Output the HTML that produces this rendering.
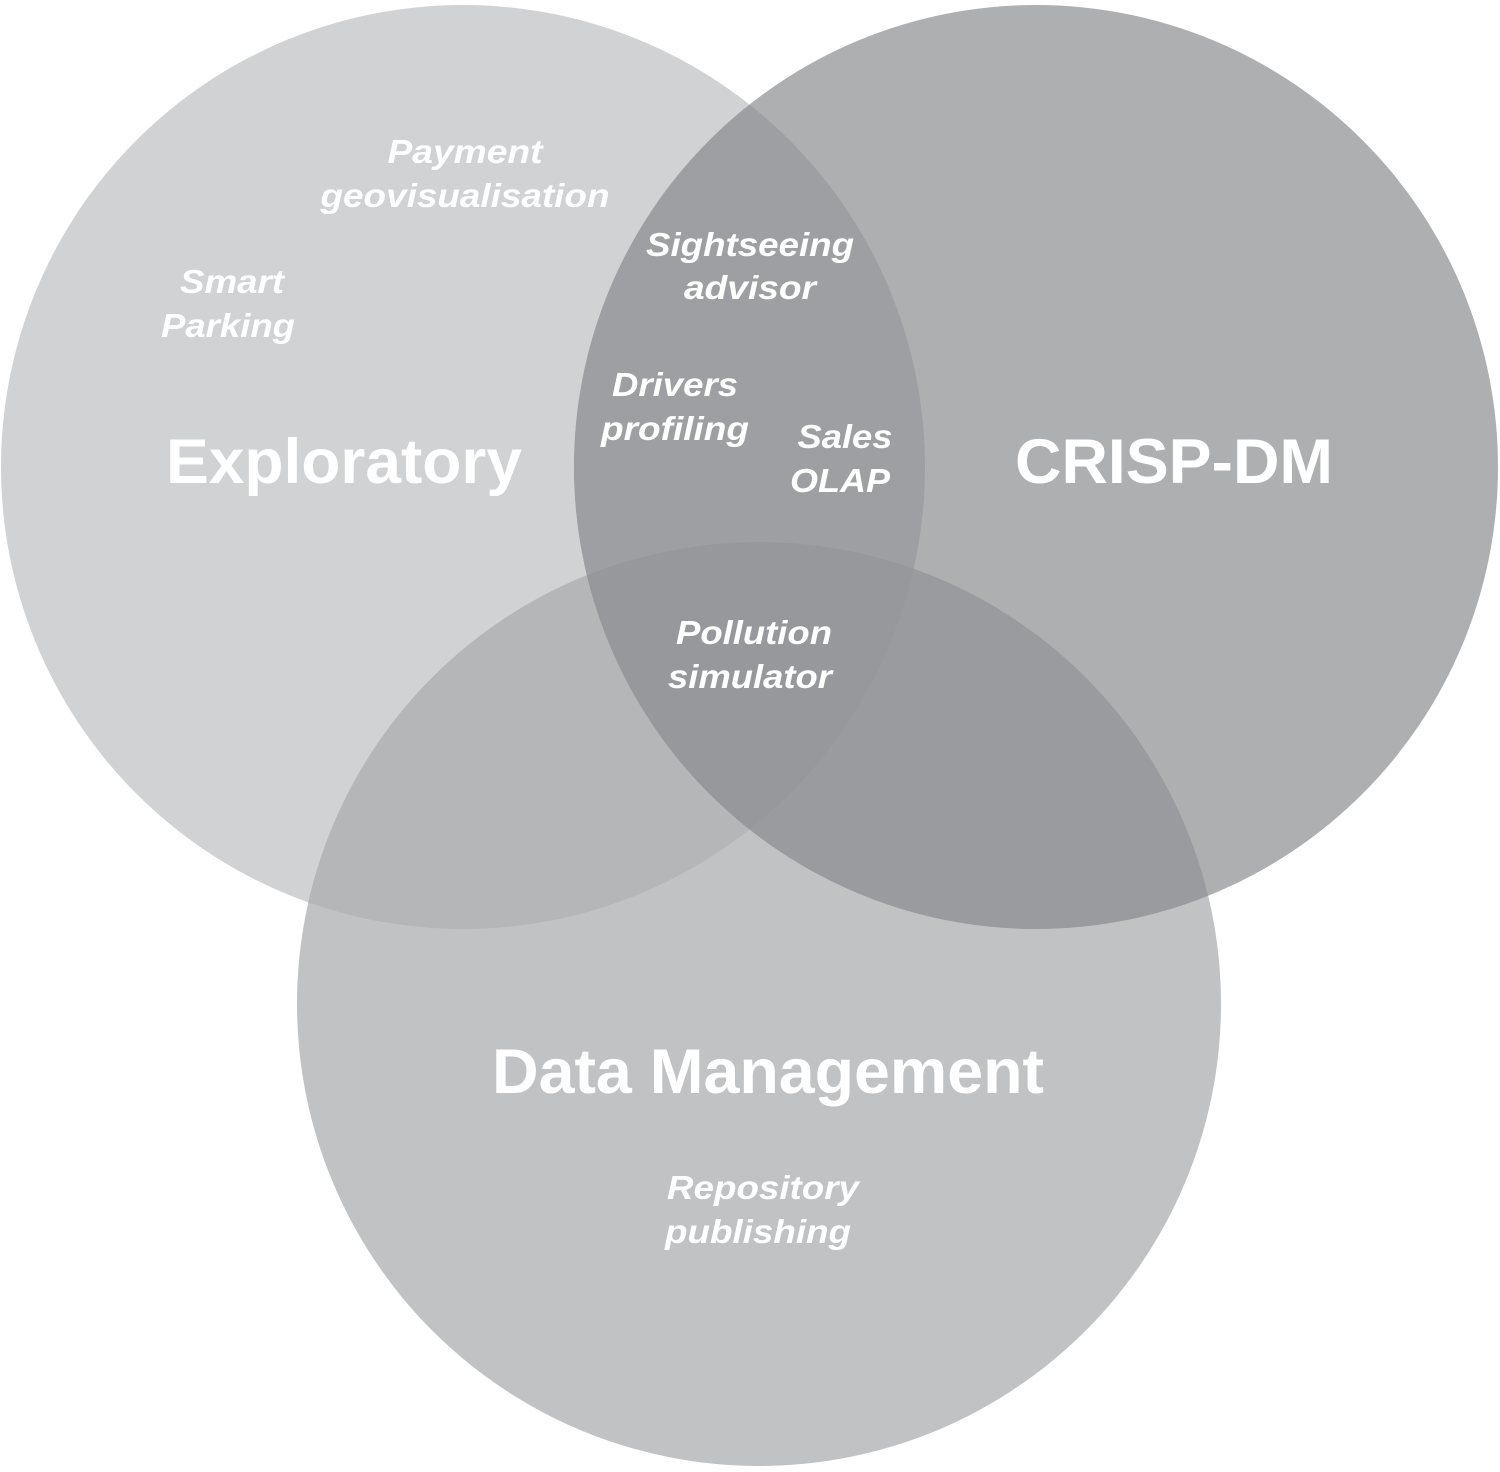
<!DOCTYPE html>
<html><head><meta charset="utf-8"><style>html,body{margin:0;padding:0;background:#fff}</style></head>
<body>
<svg width="1500" height="1467" viewBox="0 0 1500 1467" xmlns="http://www.w3.org/2000/svg">
<defs>
<clipPath id="cL"><circle cx="463" cy="467" r="462"/></clipPath>
<clipPath id="cR"><circle cx="1036" cy="467" r="462"/></clipPath>
<clipPath id="cB"><circle cx="759" cy="1004" r="462"/></clipPath>
</defs>
<circle cx="463" cy="467" r="462" fill="#d1d2d4"/>
<circle cx="1036" cy="467" r="462" fill="#aeafb1"/>
<circle cx="759" cy="1004" r="462" fill="#c1c2c4"/>
<circle cx="1036" cy="467" r="462" fill="#9d9fa2" clip-path="url(#cL)"/>
<circle cx="759" cy="1004" r="462" fill="#b5b6b8" clip-path="url(#cL)"/>
<circle cx="759" cy="1004" r="462" fill="#9a9b9e" clip-path="url(#cR)"/>
<g clip-path="url(#cL)"><circle cx="759" cy="1004" r="462" fill="#97989b" clip-path="url(#cR)"/></g>
<g fill="#fff" font-family="Liberation Sans, sans-serif" font-weight="bold" text-anchor="middle" lengthAdjust="spacingAndGlyphs">
<text x="344" y="483" font-size="63" textLength="356" lengthAdjust="spacingAndGlyphs">Exploratory</text>
<text x="1174" y="483" font-size="63" textLength="318" lengthAdjust="spacingAndGlyphs">CRISP-DM</text>
<text x="768" y="1093" font-size="63" textLength="552" lengthAdjust="spacingAndGlyphs">Data Management</text>
<g font-style="italic" font-size="33">
<text x="465" y="163" textLength="155" lengthAdjust="spacingAndGlyphs">Payment</text>
<text x="465" y="207" textLength="289" lengthAdjust="spacingAndGlyphs">geovisualisation</text>
<text x="232" y="293" textLength="104" lengthAdjust="spacingAndGlyphs">Smart</text>
<text x="228" y="337" textLength="134" lengthAdjust="spacingAndGlyphs">Parking</text>
<text x="750" y="256" textLength="208" lengthAdjust="spacingAndGlyphs">Sightseeing</text>
<text x="750" y="299" textLength="132" lengthAdjust="spacingAndGlyphs">advisor</text>
<text x="675" y="396" textLength="126" lengthAdjust="spacingAndGlyphs">Drivers</text>
<text x="675" y="440" textLength="148" lengthAdjust="spacingAndGlyphs">profiling</text>
<text x="845" y="448" textLength="95" lengthAdjust="spacingAndGlyphs">Sales</text>
<text x="840" y="492" textLength="100" lengthAdjust="spacingAndGlyphs">OLAP</text>
<text x="754" y="644" textLength="156" lengthAdjust="spacingAndGlyphs">Pollution</text>
<text x="750" y="688" textLength="164" lengthAdjust="spacingAndGlyphs">simulator</text>
<text x="763" y="1199" textLength="192" lengthAdjust="spacingAndGlyphs">Repository</text>
<text x="758" y="1243" textLength="186" lengthAdjust="spacingAndGlyphs">publishing</text>
</g></g>
</svg>
</body></html>
